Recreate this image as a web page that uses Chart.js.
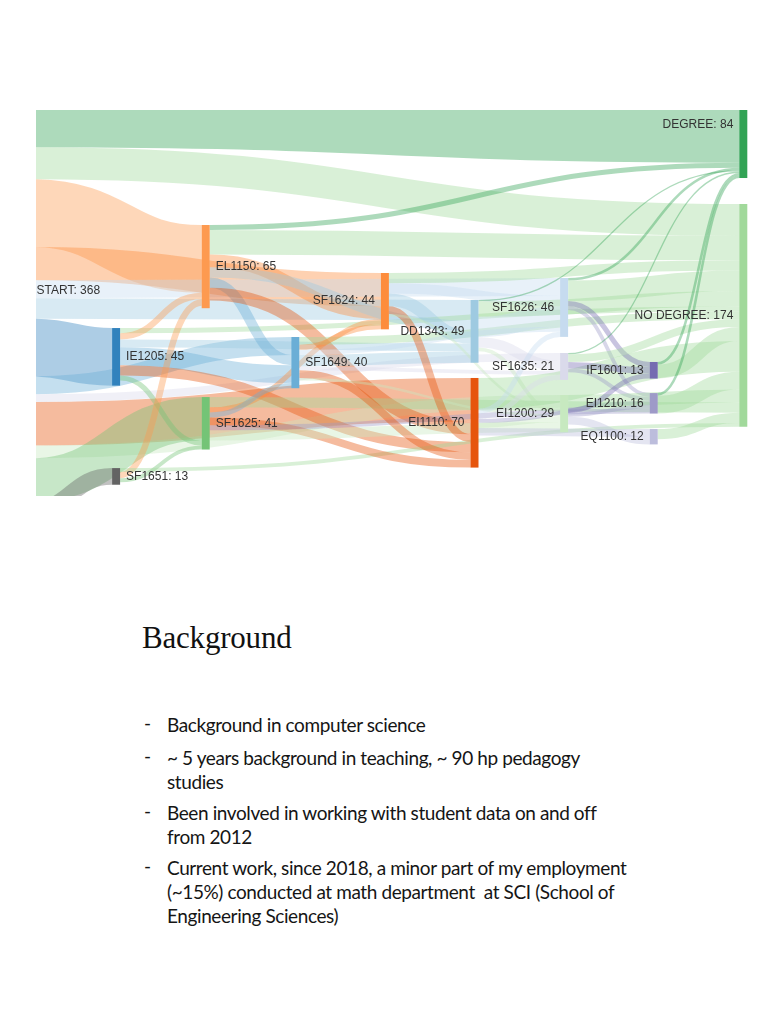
<!DOCTYPE html>
<html>
<head>
<meta charset="utf-8">
<script src="https://cdn.jsdelivr.net/npm/chart.js@4/dist/chart.umd.min.js"></script>
<style>
body{margin:0;background:#fff;width:768px;height:1024px;position:relative;overflow:hidden;}
#wrap{position:absolute;left:36px;top:110px;width:712px;height:386px;}
h1{position:absolute;left:142px;top:618px;margin:0;font:400 31px/40px "Liberation Serif",serif;color:#111;letter-spacing:-0.2px;}
.b{position:absolute;left:167px;font:19px/24px Lato,sans-serif;color:#151515;white-space:pre;letter-spacing:-0.4px;}
.d{position:absolute;left:144px;font:19px/24px Lato,sans-serif;color:#151515;}
</style>
</head>
<body>
<div id="wrap"><canvas id="flowChart"></canvas></div>

<h1>Background</h1>
<div class="d" style="top:711px">-</div>
<div class="b" style="top:713px">Background in computer science</div>
<div class="d" style="top:744px">-</div>
<div class="b" style="top:746px">~ 5 years background in teaching, ~ 90 hp pedagogy
studies</div>
<div class="d" style="top:799px">-</div>
<div class="b" style="top:801px">Been involved in working with student data on and off
from 2012</div>
<div class="d" style="top:854px">-</div>
<div class="b" style="top:856px">Current work, since 2018, a minor part of my employment
(~15%) conducted at math department  at SCI (School of
Engineering Sciences)</div>

<script>
/* ===== ข้อมูล: โหนด (คอร์ส) ===== */
const nodeNames  = ["START","IE1205","SF1651","EL1150","SF1625","SF1649","SF1624","DD1343","EI1110",
                    "SF1626","SF1635","EI1200","IF1601","EI1210","EQ1100","DEGREE","NO DEGREE"];
const nodeValues = [368, 45, 13, 65, 41, 40, 44, 49, 70, 46, 21, 29, 13, 16, 12, 84, 174];

/* ===== ข้อมูล: การไหล (source -> target) ===== */
const linkSource = [
  "START","START","START","START","START","START","START","START","START","START","START","START","START",
  "IE1205","IE1205","IE1205","IE1205","IE1205","IE1205",
  "SF1651","SF1651","SF1651",
  "EL1150","EL1150","EL1150","EL1150","EL1150","EL1150",
  "SF1625","SF1625","SF1625","SF1625","SF1625","SF1625",
  "SF1649","SF1649","SF1649","SF1649","SF1649","SF1649","SF1649",
  "SF1624","SF1624","SF1624","SF1624","SF1624",
  "DD1343","DD1343","DD1343","DD1343","DD1343",
  "EI1110","EI1110","EI1110","EI1110","EI1110","EI1110",
  "SF1626","SF1626","SF1626","SF1626",
  "SF1635","SF1635","SF1635","SF1635",
  "EI1200","EI1200","EI1200","EI1200",
  "IF1601","IF1601",
  "EI1210","EI1210",
  "EQ1100"
];
const linkTarget = [
  "DEGREE","NO DEGREE","EL1150","SF1624","SF1626","DD1343","IE1205","SF1649","SF1635","EI1110","EI1200","SF1625","SF1651",
  "NO DEGREE","EL1150","DD1343","SF1649","EI1110","SF1625",
  "EL1150","SF1625","NO DEGREE",
  "DEGREE","NO DEGREE","SF1624","DD1343","SF1649","EI1110",
  "NO DEGREE","SF1624","SF1649","EI1110","EI1200","EI1210",
  "NO DEGREE","SF1624","DD1343","SF1626","SF1635","EI1110","EI1200",
  "NO DEGREE","SF1626","DD1343","EI1110","EI1200",
  "DEGREE","NO DEGREE","SF1626","SF1635","EI1200",
  "NO DEGREE","SF1626","SF1635","EI1200","EI1210","EQ1100",
  "DEGREE","NO DEGREE","IF1601","EI1210",
  "DEGREE","NO DEGREE","IF1601","EI1210",
  "NO DEGREE","IF1601","EI1210","EQ1100",
  "DEGREE","NO DEGREE",
  "DEGREE","NO DEGREE",
  "NO DEGREE"
];
const linkValue = [
  72, 25, 53, 26, 14, 16, 45, 14, 6, 34, 10, 34, 13,
  4, 5, 6, 14, 8, 4,
  5, 3, 3,
  4, 19, 10, 8, 8, 10,
  8, 4, 4, 6, 8, 4,
  6, 4, 9, 4, 3, 6, 2,
  8, 8, 10, 6, 2,
  1, 12, 16, 8, 3,
  24, 4, 4, 4, 3, 6,
  2, 16, 4, 3,
  1, 6, 5, 3,
  10, 4, 3, 6,
  2, 11,
  2, 14,
  8
];

/* ===== เลย์เอาต์ (คอลัมน์ / ตำแหน่งบนสุดในหน่วยจำนวนนักศึกษา) ===== */
const nodeColumn = [0, 1, 1, 2, 2, 3, 4, 5, 5, 6, 6, 6, 7, 7, 7, 8, 8];
const nodeTop    = [0, 213.3, 322.7, 132.8, 267.2, 220.3, 170.3, 191.4, 252.3,
                    174.2, 232.8, 265.6, 239.8, 264.1, 292.2, 12.1, 116.4];
const nodeColors = ["#fdae6b","#3182bd","#636363","#fd9a50","#74c476","#6baed6","#fd8d3c","#9ecae1","#e6550d",
                    "#c6dbef","#dadaeb","#c7e9c0","#756bb1","#9e9ac8","#bcbddc","#31a354","#a1d99b"];

const NODE_W = 0.0893;   // ความกว้างโหนด (หน่วยคอลัมน์)
const LINK_ALPHA = 0.4;

function hexToRgba(hex, a){
    const n = parseInt(hex.slice(1), 16);
    return `rgba(${(n>>16)&255},${(n>>8)&255},${n&255},${a})`;
}

/* ===== ปลั๊กอินวาด Sankey ผ่านสเกลของ Chart.js ===== */
const sankeyPlugin = {
    id: "sankey",
    afterDatasetsDraw(chart){
        const {ctx, chartArea, scales} = chart;
        const xs = scales.x, ys = scales.y;
        const idx = name => nodeNames.indexOf(name);

        const links = linkValue.map((v, i) => ({s: idx(linkSource[i]), t: idx(linkTarget[i]), v}));
        const outs = nodeNames.map(() => []);
        const ins  = nodeNames.map(() => []);
        links.forEach(l => { outs[l.s].push(l); ins[l.t].push(l); });

        outs.forEach(list => {
            list.sort((a, b) => nodeTop[a.t] - nodeTop[b.t]);
            let off = 0;
            list.forEach(l => { l.sy = off; off += l.v; });
        });
        ins.forEach(list => {
            list.sort((a, b) => nodeTop[a.s] - nodeTop[b.s]);
            let off = 0;
            list.forEach(l => { l.ty = off; off += l.v; });
        });

        ctx.save();
        ctx.beginPath();
        ctx.rect(chartArea.left, chartArea.top, chartArea.right - chartArea.left, chartArea.bottom - chartArea.top);
        ctx.clip();

        // links
        ctx.lineCap = "butt";
        links.forEach(l => {
            const x0 = xs.getPixelForValue(nodeColumn[l.s] + NODE_W);
            const x1 = xs.getPixelForValue(nodeColumn[l.t]);
            const y0 = ys.getPixelForValue(nodeTop[l.s] + l.sy + l.v / 2);
            const y1 = ys.getPixelForValue(nodeTop[l.t] + l.ty + l.v / 2);
            const w  = Math.abs(ys.getPixelForValue(l.v) - ys.getPixelForValue(0));
            const xm = (x0 + x1) / 2;
            ctx.beginPath();
            ctx.moveTo(x0, y0);
            ctx.bezierCurveTo(xm, y0, xm, y1, x1, y1);
            ctx.lineWidth = Math.max(1, w);
            ctx.strokeStyle = hexToRgba(nodeColors[l.t], LINK_ALPHA);
            ctx.stroke();
        });

        // nodes
        nodeNames.forEach((name, i) => {
            const xa = xs.getPixelForValue(nodeColumn[i]);
            const xb = xs.getPixelForValue(nodeColumn[i] + NODE_W);
            const ya = ys.getPixelForValue(nodeTop[i]);
            const yb = ys.getPixelForValue(nodeTop[i] + nodeValues[i]);
            ctx.fillStyle = nodeColors[i];
            ctx.fillRect(xa, Math.min(ya, yb), xb - xa, Math.abs(yb - ya));
        });

        // labels
        ctx.font = '12px "Liberation Sans", Arial, sans-serif';
        ctx.textBaseline = "middle";
        ctx.fillStyle = "#333";
        nodeNames.forEach((name, i) => {
            const yc = ys.getPixelForValue(nodeTop[i] + nodeValues[i] / 2);
            const text = `${name}: ${nodeValues[i]}`;
            if(nodeColumn[i] < 4){
                ctx.textAlign = "left";
                ctx.fillText(text, xs.getPixelForValue(nodeColumn[i] + NODE_W) + 6, yc);
            }else{
                ctx.textAlign = "right";
                ctx.fillText(text, xs.getPixelForValue(nodeColumn[i]) - 6, yc);
            }
        });
        ctx.restore();
    }
};

/* ===== สร้างกราฟ ===== */
const ctxEl = document.getElementById("flowChart");
new Chart(ctxEl, {
    type: "scatter",
    data: {
        datasets: [{
            data: nodeNames.map((_, i) => ({x: nodeColumn[i], y: nodeTop[i]})),
            pointRadius: 0,
            pointHoverRadius: 0
        }]
    },
    options: {
        responsive: true,
        maintainAspectRatio: false,
        animation: false,
        events: [],
        layout: { padding: 0 },
        plugins: {
            legend: { display: false },
            tooltip: { enabled: false }
        },
        scales: {
            x: { type: "linear", min: 0.1507, max: 8.0971, display: false },
            y: { type: "linear", min: 42.97, max: 344.5, reverse: true, display: false }
        }
    },
    plugins: [sankeyPlugin]
});
</script>
</body>
</html>
